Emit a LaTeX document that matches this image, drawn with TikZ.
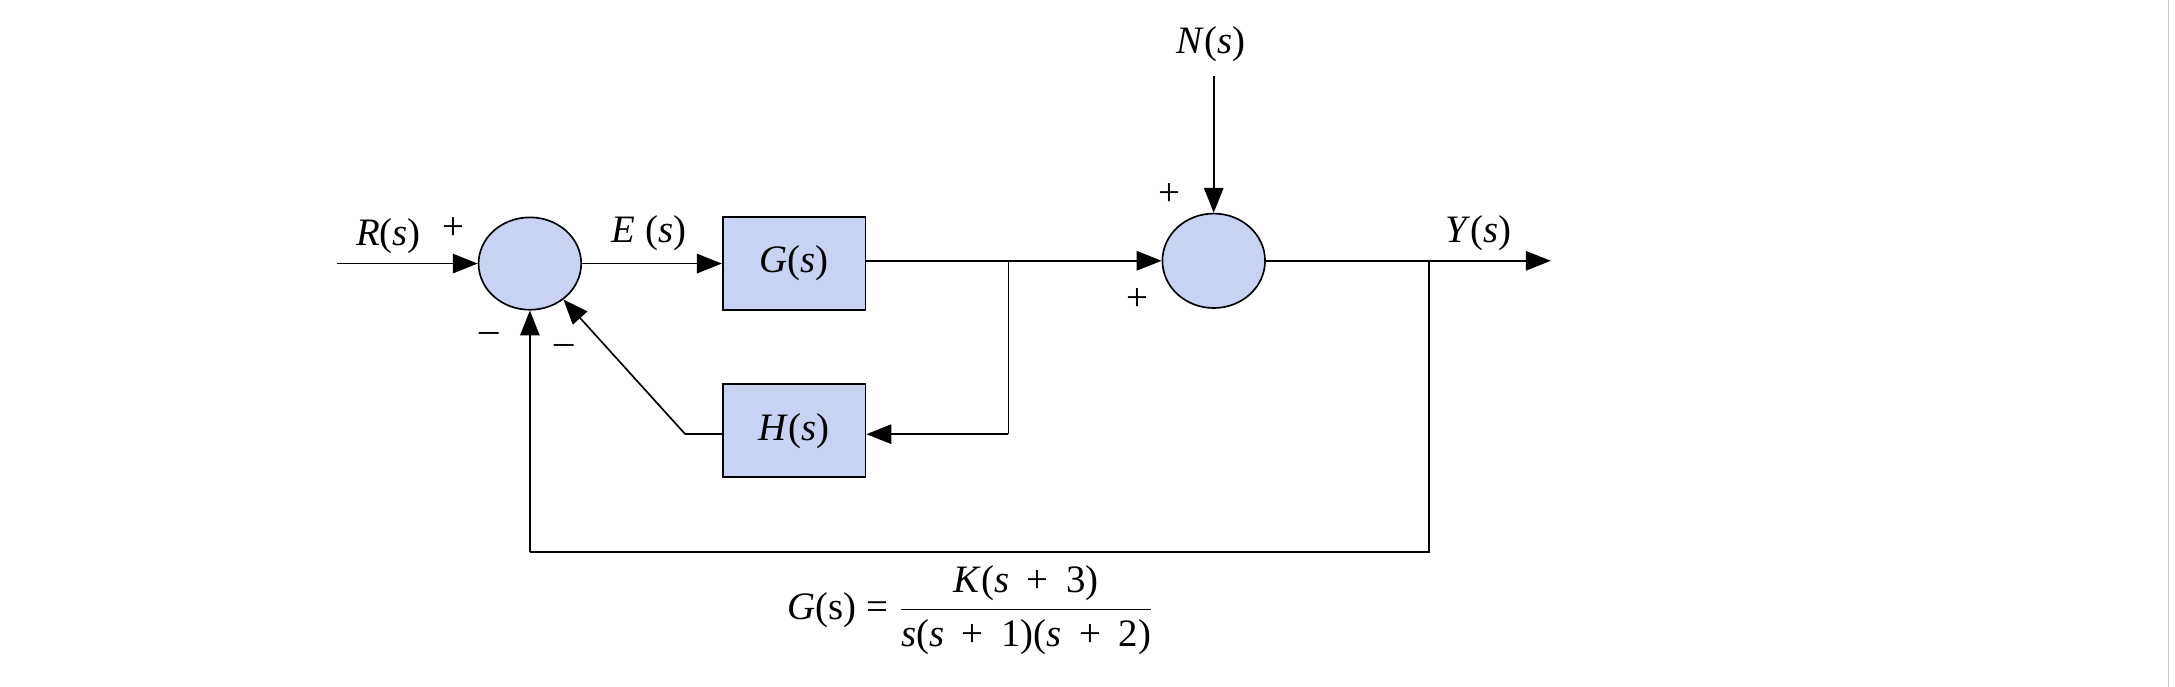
\documentclass[tikz,border=0pt]{standalone}
\usepackage{fontspec}
\setmainfont{Liberation Serif}
\usetikzlibrary{arrows.meta}
\definecolor{bfill}{RGB}{200,210,242}
\newcommand{\gap}{\hspace{0.45em}}
\begin{document}
\begin{tikzpicture}[x=0.5pt,y=-0.5pt,font=\fontsize{14}{16}\selectfont,
  blk/.style={draw,fill=bfill,minimum width=51.5pt,minimum height=33.5pt,inner sep=0pt},
  arr/.style={-{Triangle[length=9pt,width=7pt]}},
  line width=0.6pt]
\useasboundingbox[fill=white] (0,0) rectangle (1568,495);
\node[blk] (G) at (572.5,190) {\textit{G}(\textit{s})};
\node[blk] (H) at (572.5,310.5) {\textit{H}(\textit{s})};
\node[draw,fill=bfill,circle,minimum size=37pt,inner sep=0pt,yscale=0.9] (S1) at (382,190) {};
\node[draw,fill=bfill,circle,minimum size=37pt,inner sep=0pt,yscale=0.92] (S2) at (875,188) {};
\coordinate (Rin) at (243,190);
\coordinate (J1) at (727,188);
\coordinate (J2) at (1030,188);
\coordinate (Yout) at (1118,188);
\coordinate (Nin) at (875,55);
\coordinate (J1b) at (727,313);
\coordinate (Hl) at (494,313);
\coordinate (B1) at (1030,398);
\coordinate (B2) at (382,398);
\draw[arr] (Rin) -- (S1.west);
\draw[arr] (S1.east) -- (G.west);
\draw (G.east |- J1) -- (J1);
\draw[arr] (J1) -- (S2.west);
\draw[arr] (Nin) -- (S2.north);
\draw[arr] (S2.east) -- (Yout);
\draw (J1) -- (J1b);
\draw[arr] (J1b) -- (H.east |- J1b);
\draw (H.west |- Hl) -- (Hl);
\draw[arr] (Hl) -- (S1.-50);
\draw (J2) -- (B1) -- (B2);
\draw[arr] (B2) -- (S1.south);
\node at (280,170) {\textit{R}(\textit{s})};
\node at (327,165) {+};
\node at (468,168) {\textit{E} (\textit{s})};
\node at (873,32) {\textit{N}(\textit{s})};
\node at (843,140) {+};
\node at (820,216) {+};
\node at (1066,168) {\textit{Y}(\textit{s})};
\node at (353,243) {--};
\node at (407,252) {--};
\node (eq) at (700,440) {\textit{G}(s) = $\displaystyle\frac{\mbox{\textit{K}(\textit{s}\gap+\gap3)}}{\mbox{\textit{s}(\textit{s}\gap+\gap1)(\textit{s}\gap+\gap2)}}$};
\draw[line width=0.3pt,gray!40] (1563,0) -- (1563,495);
\end{tikzpicture}
\end{document}
